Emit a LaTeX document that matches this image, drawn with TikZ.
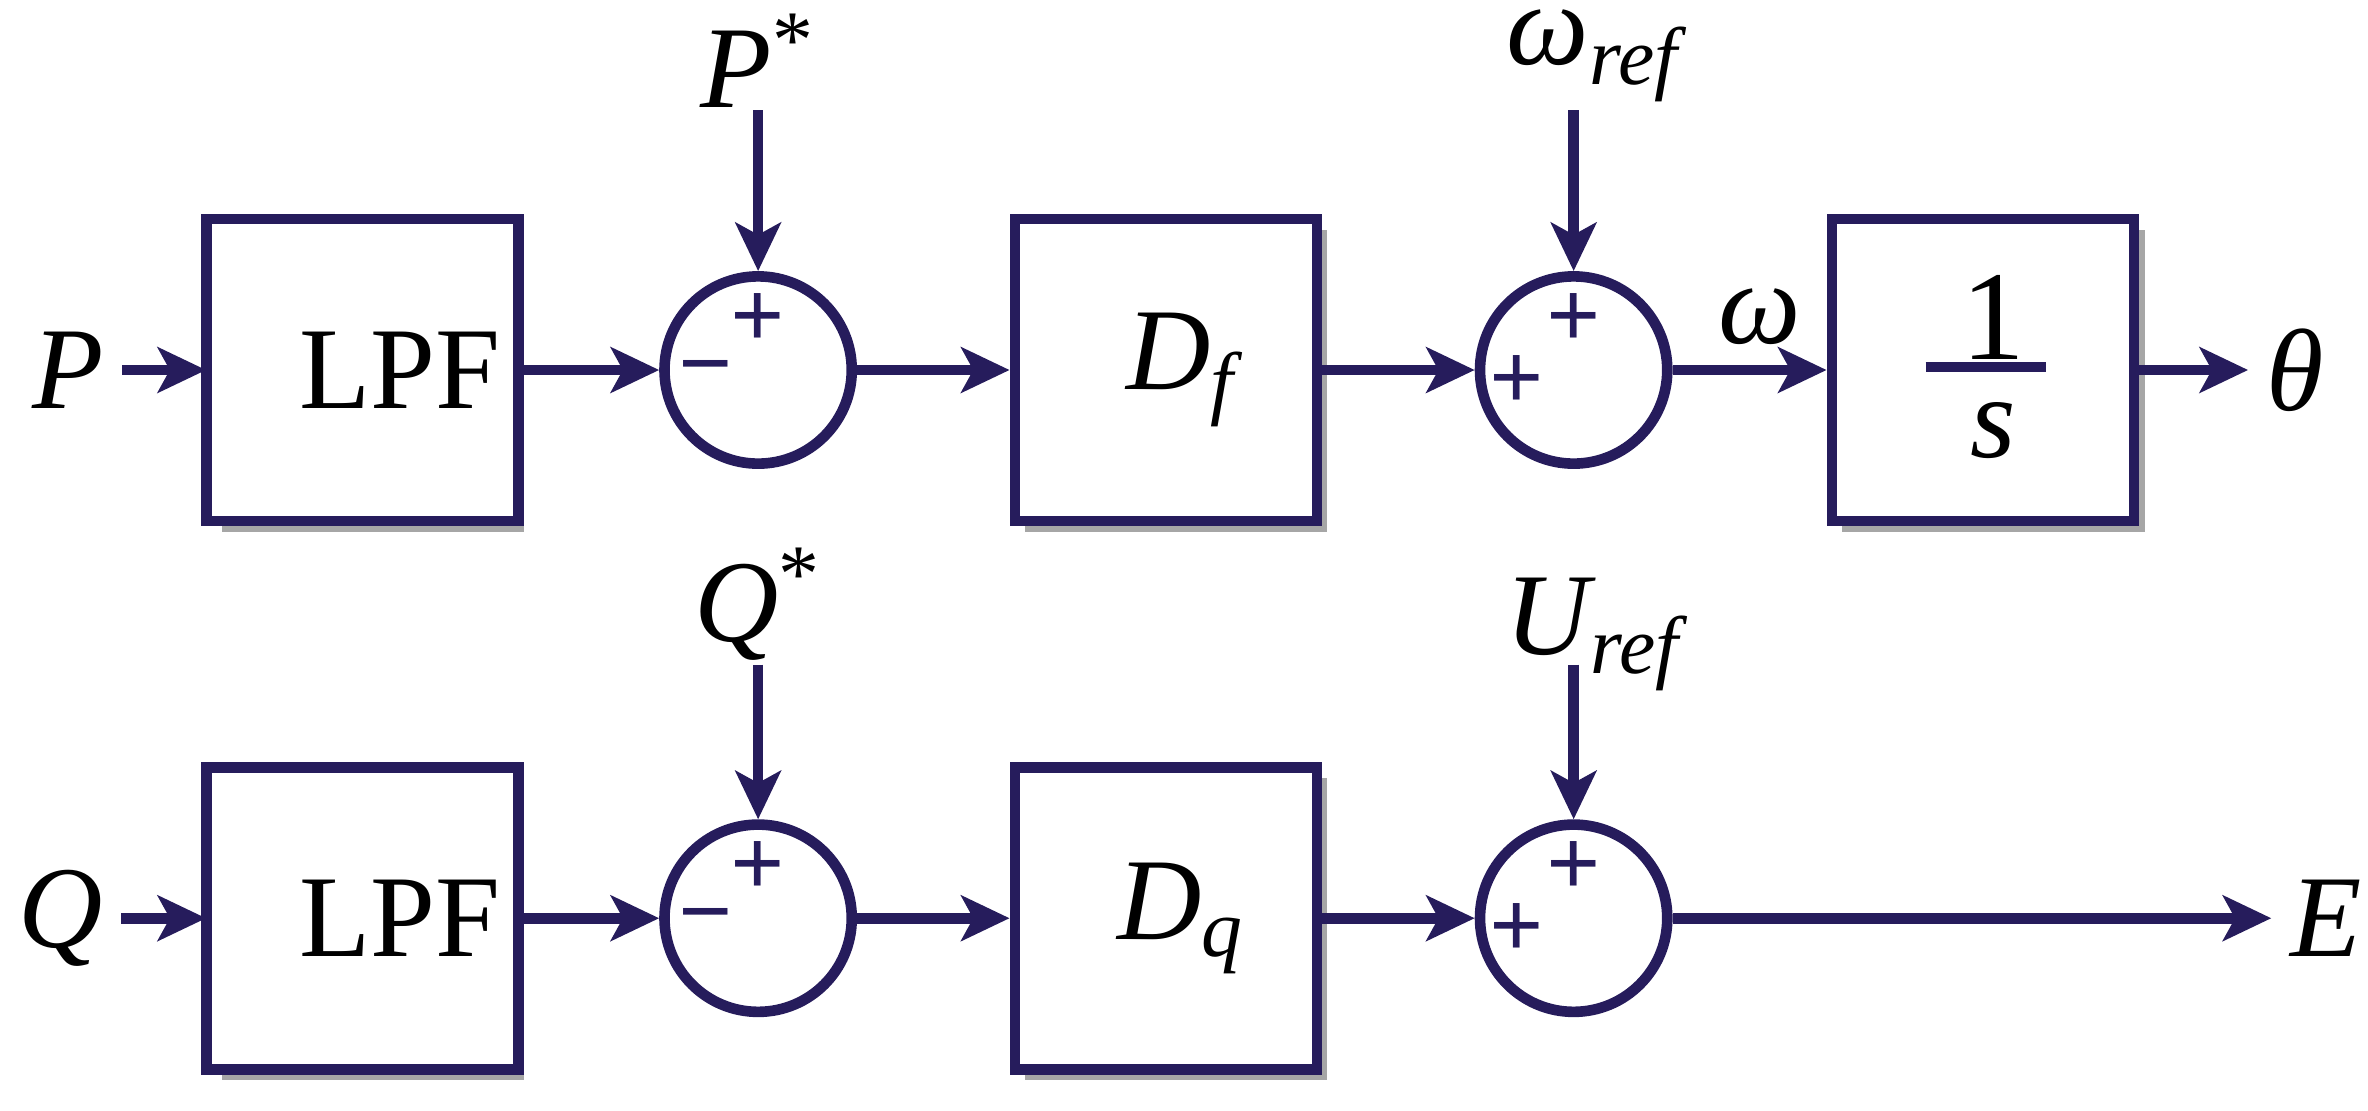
\documentclass[tikz,border=0pt]{standalone}
\usepackage{amsmath}
\usepackage{fontspec}
\setmainfont{Liberation Serif}
\usetikzlibrary{arrows.meta,positioning}
\definecolor{navy}{RGB}{38,28,92}
\tikzset{blk/.style={draw=navy,line width=2pt,minimum size=2cm,fill=white,
  font=\fontsize{22}{22}\selectfont},
 sum/.style={circle,draw=navy,line width=2pt,minimum size=1.24cm,inner sep=0pt},
 sig/.style={font=\fontsize{22}{22}\selectfont\itshape,text=black},
 pm/.style={font=\fontsize{18}{18}\selectfont\bfseries,text=navy},
 ar/.style={draw=navy,line width=2pt,-{Stealth[length=0.32cm,width=0.3cm,inset=0.08cm]}}}
\begin{document}
\begin{tikzpicture}
\useasboundingbox (0,0) rectangle (15.68,7.35);
\foreach \X/\Y/\T in {2.40/4.90/\hspace{0.5cm}LPF,7.72/4.90/{\hspace{0.2cm}\textit{D}$_{\text{\itshape f}}$},13.13/4.90/{},2.40/1.27/\hspace{0.5cm}LPF,7.72/1.27/{\hspace{0.2cm}\textit{D}$_{\text{\itshape q}}$}}
{\fill[gray!70] (\X-0.93,\Y-1.07) rectangle (\X+1.07,\Y+0.93);
 \node[blk] at (\X,\Y) {\T};}
\node[blk,draw=none,fill=none] (lpf1) at (2.40,4.90) {};
\node[blk,draw=none,fill=none] (df) at (7.72,4.90) {};
\node[blk,draw=none,fill=none] (int) at (13.13,4.90) {};
\node[blk,draw=none,fill=none] (lpf2) at (2.40,1.27) {};
\node[blk,draw=none,fill=none] (dq) at (7.72,1.27) {};
% integrator 1/s
\node[font=\fontsize{24}{24}\selectfont] (one) at (13.20,5.25) {1};
\node[sig] (s) at (13.20,4.50) {s};
\draw[navy,line width=2pt] (12.75,4.92) -- (13.55,4.92);
% summing junctions
\node[sum] (s1) at (5.02,4.90) {};
\node[sum] (s2) at (10.42,4.90) {};
\node[sum] (s3) at (5.02,1.27) {};
\node[sum] (s4) at (10.42,1.27) {};
\foreach \S in {s1,s2,s3,s4} \node[pm] at ([shift={(0.0,0.33)}]\S.center) {+};
\foreach \S in {s1,s3} \node[pm] at ([shift={(-0.35,-0.05)}]\S.center) {\textminus};
\foreach \S in {s2,s4} \node[pm] at ([shift={(-0.38,-0.08)}]\S.center) {+};
% signals
\node[sig] (p) at (0.45,4.90) {P};
\node[sig] (q) at (0.40,1.27) {Q};
\node[sig] (ps) at (5.02,6.95) {P\textsuperscript{\upshape *}};
\node[sig] (qs) at (5.02,3.35) {Q\textsuperscript{\upshape *}};
\node[sig] (wr) at (10.55,6.98) {ω$_{\text{\itshape ref}}$};
\node[sig] (ur) at (10.55,3.15) {U$_{\text{\itshape ref}}$};
\node[sig] (w) at (11.65,5.25) {ω};
\node[sig] (th) at (15.20,4.90) {θ};
\node[sig] (e) at (15.40,1.27) {E};
\coordinate (ps0) at (5.02,6.62);
\coordinate (qs0) at (5.02,2.95);
\coordinate (wr0) at (10.42,6.62);
\coordinate (ur0) at (10.42,2.95);
\draw[ar] (p) -- (lpf1);
\draw[ar] (q) -- (lpf2);
\draw[ar] ([xshift=0.03cm]lpf1.east) -- (s1);
\draw[ar] ([xshift=0.03cm]lpf2.east) -- (s3);
\draw[ar] (ps0) -- (s1);
\draw[ar] (qs0) -- (s3);
\draw[ar] (s1) -- (df);
\draw[ar] (s3) -- (dq);
\draw[ar] (df) -- (s2);
\draw[ar] (dq) -- (s4);
\draw[ar] (wr0) -- (s2);
\draw[ar] (ur0) -- (s4);
\draw[ar] (s2) -- (int);
\draw[ar] (int) -- (th);
\draw[ar] (s4) -- (e);
\end{tikzpicture}
\end{document}
